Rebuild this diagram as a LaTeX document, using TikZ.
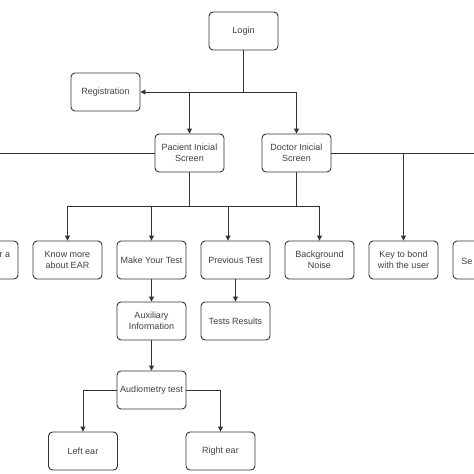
\documentclass[tikz,border=0pt]{standalone}
\usepackage{fontspec}
\setmainfont{Liberation Sans}
\definecolor{line_c}{rgb}{0.2, 0.2, 0.2}
\definecolor{text_c}{rgb}{0.25, 0.25, 0.25}
\usetikzlibrary{arrows.meta,
                positioning,
                shapes}

\begin{document}
\begin{tikzpicture}[
			x=1pt, y=-1pt,
			line width=0.9pt,
			draw=line_c,
			screen/.style = {draw=line_c, rectangle, rounded corners=4pt, fill=white,
				minimum width=69pt, minimum height=38pt, inner sep=0pt,
				align=center, text=text_c, font=\fontsize{9}{10.5}\selectfont},
			arr/.style = {-{Triangle[length=5pt,width=5pt]}},
			]
			\useasboundingbox (0,0) rectangle (474,474);
			\clip (0,0) rectangle (474,474);
			% top
			\node[screen] (login) at (243.5,31) {Login};
			\node[screen] (reg) at (105.5,92) {Registration};
			\node[screen] (pacient) at (189.5,153) {Pacient Inicial\\Screen};
			\node[screen] (doctor) at (296.5,153) {Doctor Inicial\\Screen};
			% second row
			\node[screen] (cutleft) at (-16.5,260) {};
			\node[anchor=east, inner sep=0pt, text=text_c, font=\fontsize{9}{10.5}\selectfont] (cutlefttxt) at (10.5,255) {r a};
			\node[screen] (know) at (67.5,260) {Know more\\about EAR};
			\node[screen] (make) at (151.5,260) {Make Your Test};
			\node[screen] (prev) at (235.5,260) {Previous Test};
			\node[screen] (noise) at (319.5,260) {Background\\Noise};
			\node[screen] (key) at (403.5,260) {Key to bond\\with the user};
			\node[screen] (cutright) at (487.5,260) {};
			\node[anchor=west, inner sep=0pt, text=text_c, font=\fontsize{9}{10.5}\selectfont] (cutrighttxt) at (461,261) {Se};
			% third row
			\node[screen] (aux) at (151.5,321) {Auxiliary\\Information};
			\node[screen] (results) at (235.5,321) {Tests Results};
			\node[screen] (audio) at (151.5,390) {Audiometry test};
			\node[screen] (left) at (83,451) {Left ear};
			\node[screen] (right) at (220.5,451) {Right ear};
			% junctions
			\coordinate (j1) at (243.5,92);
			\coordinate (busP) at (189.5,206);
			\coordinate (busD) at (296.5,206);
			\coordinate (offL) at (-20,153);
			\coordinate (offR) at (494,153);
			% edges
			\draw (login) -- (j1);
			\draw[arr] (j1) -- (reg);
			\draw[arr] (j1) -| (pacient);
			\draw[arr] (j1) -| (doctor);
			\draw (pacient) -- (offL);
			\draw (doctor) -- (offR);
			\draw[arr] (key |- doctor) -- (key);
			\draw (pacient) -- (busP);
			\draw (doctor) -- (busD);
			\draw (busP) -- (busD);
			\draw[arr] (busP) -| (know);
			\draw[arr] (busP) -| (make);
			\draw[arr] (busD) -| ([xshift=-7.5pt]prev.north);
			\draw[arr] (busD) -| (noise);
			\draw[arr] (make) -- (aux);
			\draw[arr] (prev) -- (results);
			\draw[arr] (aux) -- (audio);
			\draw[arr] (audio) -| (left);
			\draw[arr] (audio) -| (right);
		\end{tikzpicture}
\end{document}
